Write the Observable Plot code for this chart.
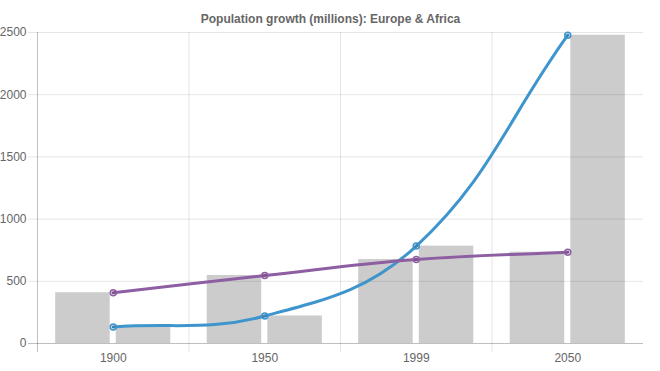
<!DOCTYPE html>
<html>
<head>
<meta charset="utf-8">
<script src="https://cdn.jsdelivr.net/npm/d3@7"></script>
<script src="https://cdn.jsdelivr.net/npm/@observablehq/plot@0.6"></script>
<style>
  html, body { margin: 0; padding: 0; background: #fff; }
  #chart svg { display: block; overflow: visible; }
</style>
</head>
<body>
<div id="chart"></div>
<script>
const title = "Population growth (millions): Europe & Africa";
const years = ["1900", "1950", "1999", "2050"];
const europe = [408, 547, 675, 734];
const africa = [133, 221, 783, 2478];
const yTicks = [0, 500, 1000, 1500, 2000, 2500];

const europeColor = "#8e5ea2";
const africaColor = "#3e95cd";

const W = 660, H = 371;
const mL = 37, mR = 17, mT = 32, mB = 28;
const bw = (W - mL - mR) / years.length;

// rows (index-based x so that gridlines can sit between categories)
const rows = years.flatMap((y, i) => [
  {i, year: y, series: "Europe", value: europe[i]},
  {i, year: y, series: "Africa", value: africa[i]}
]);
const eu = rows.filter(d => d.series === "Europe");
const af = rows.filter(d => d.series === "Africa");

// Chart.js-style bezier spline (tension 0.4)
function chartjsCurve(context) {
  let pts = [];
  const t = 0.4;
  return {
    areaStart() {}, areaEnd() {},
    lineStart() { pts = []; },
    point(x, y) { pts.push([+x, +y]); },
    lineEnd() {
      const n = pts.length;
      if (!n) return;
      const cps = pts.map((cur, k) => {
        const prev = pts[Math.max(0, k - 1)];
        const next = pts[Math.min(n - 1, k + 1)];
        const d01 = Math.hypot(cur[0] - prev[0], cur[1] - prev[1]);
        const d12 = Math.hypot(next[0] - cur[0], next[1] - cur[1]);
        let s01 = d01 / (d01 + d12), s12 = d12 / (d01 + d12);
        if (!isFinite(s01)) s01 = 0;
        if (!isFinite(s12)) s12 = 0;
        const fa = t * s01, fb = t * s12;
        return {
          px: cur[0] - fa * (next[0] - prev[0]),
          py: cur[1] - fa * (next[1] - prev[1]),
          nx: cur[0] + fb * (next[0] - prev[0]),
          ny: cur[1] + fb * (next[1] - prev[1])
        };
      });
      context.moveTo(pts[0][0], pts[0][1]);
      for (let k = 1; k < n; k++) {
        context.bezierCurveTo(cps[k - 1].nx, cps[k - 1].ny, cps[k].px, cps[k].py, pts[k][0], pts[k][1]);
      }
    }
  };
}

const font = "'Helvetica Neue', Helvetica, Arial, 'Liberation Sans', sans-serif";
const gridIdx = d3.range(years.length);

const chart = Plot.plot({
  width: W,
  height: H,
  marginLeft: mL,
  marginRight: mR,
  marginTop: mT,
  marginBottom: mB,
  style: {fontFamily: font, fontSize: "12px", color: "#666", background: "#fff", overflow: "visible"},
  x: {domain: [0, years.length], axis: null},
  y: {domain: [0, 2500], axis: null},
  marks: [
    // horizontal gridlines with left tick extensions
    Plot.ruleY(yTicks.filter(v => v !== 0), {y: d => d, stroke: "#000", strokeOpacity: 0.1, insetLeft: -9}),
    // vertical gridlines (category boundaries) with bottom tick extensions
    Plot.ruleX(gridIdx.filter(v => v !== 0), {x: d => d, stroke: "#000", strokeOpacity: 0.1, insetBottom: -9}),
    // bars
    Plot.rectY(eu, {x1: d => d.i, x2: d => d.i + 1, y: "value", fill: "#000", fillOpacity: 0.2,
      insetLeft: 0.12 * bw, insetRight: 0.52 * bw}),
    Plot.rectY(af, {x1: d => d.i, x2: d => d.i + 1, y: "value", fill: "#000", fillOpacity: 0.2,
      insetLeft: 0.52 * bw, insetRight: 0.12 * bw}),
    // zero lines
    Plot.ruleY([0], {stroke: "#000", strokeOpacity: 0.25, insetLeft: -9}),
    Plot.ruleX([0], {stroke: "#000", strokeOpacity: 0.25, insetBottom: -9}),
    // y axis labels
    Plot.axisY(yTicks, {tickSize: 0, tickPadding: 11, fill: "#666", fontSize: 12, label: null,
      tickFormat: d => String(d)}),
    // x axis labels
    Plot.axisX(years.map((y, i) => i + 0.5), {tickSize: 0, tickPadding: 10, fill: "#666", fontSize: 12, label: null,
      tickFormat: v => years[Math.floor(v)]}),
    // lines
    Plot.line(af, {x: d => d.i + 0.5, y: "value", stroke: africaColor, strokeWidth: 3, curve: chartjsCurve}),
    Plot.line(eu, {x: d => d.i + 0.5, y: "value", stroke: europeColor, strokeWidth: 3, curve: chartjsCurve}),
    Plot.dot(af, {x: d => d.i + 0.5, y: "value", r: 3, stroke: africaColor, strokeWidth: 1.5, fill: "#000", fillOpacity: 0.1}),
    Plot.dot(eu, {x: d => d.i + 0.5, y: "value", r: 3, stroke: europeColor, strokeWidth: 1.5, fill: "#000", fillOpacity: 0.1}),
    // title
    Plot.text([title], {frameAnchor: "top", dy: -18, dx: -10, text: d => d, fill: "#666",
      fontWeight: "bold", fontSize: 12})
  ]
});

document.getElementById("chart").appendChild(chart);
</script>
</body>
</html>
